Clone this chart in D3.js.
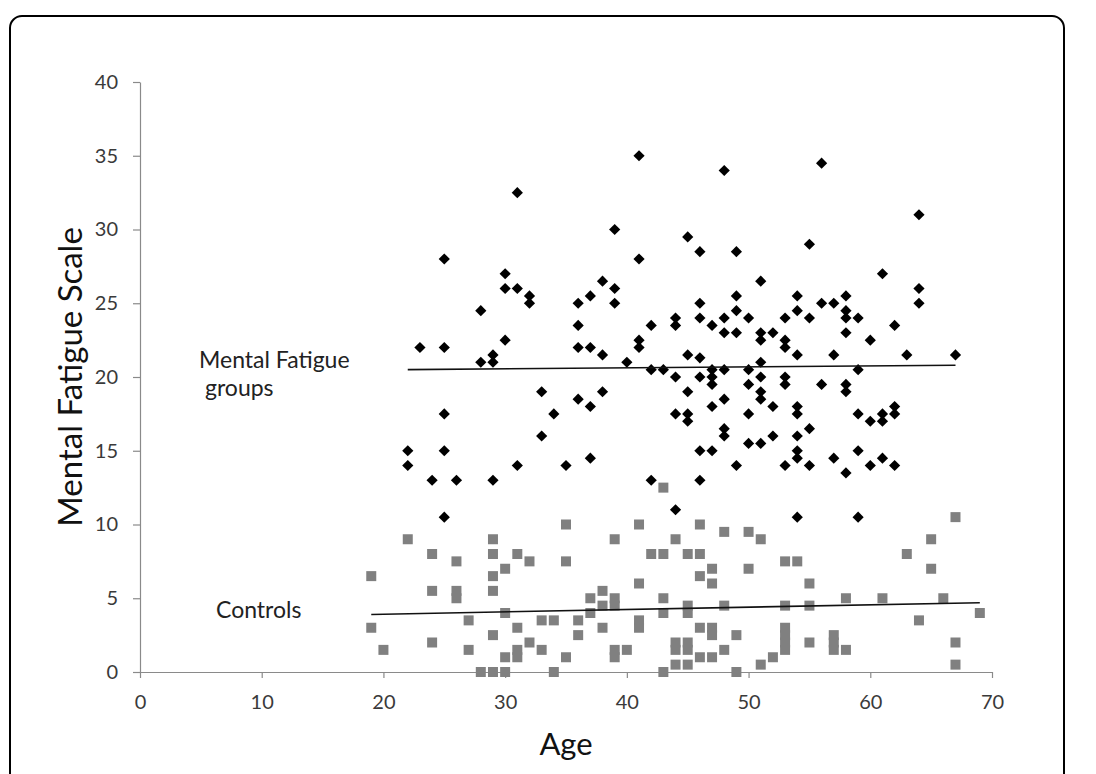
<!DOCTYPE html>
<html>
<head>
<meta charset="utf-8">
<script src="https://cdn.jsdelivr.net/npm/d3@7"></script>
<style>
  html, body { margin: 0; padding: 0; background: #fff; }
  svg { display: block; }
</style>
</head>
<body>
<div id="chart"></div>
<script>
"use strict";

// Mental fatigue group: [age, score]
const fatiguePoints = [
    [22, 15], [22, 14],
    [23, 22],
    [24, 13],
    [25, 28], [25, 22], [25, 17.5], [25, 15], [25, 10.5],
    [26, 13],
    [28, 24.5], [28, 21],
    [29, 21.5], [29, 21], [29, 13],
    [30, 27], [30, 26], [30, 22.5],
    [31, 32.5], [31, 26], [31, 14],
    [32, 25.5], [32, 25],
    [33, 19], [33, 16],
    [34, 17.5],
    [35, 14],
    [36, 25], [36, 23.5], [36, 22], [36, 18.5],
    [37, 25.5], [37, 22], [37, 18], [37, 14.5],
    [38, 26.5], [38, 21.5], [38, 19],
    [39, 30], [39, 26], [39, 25],
    [40, 21],
    [41, 35], [41, 28], [41, 22.5], [41, 22],
    [42, 23.5], [42, 20.5], [42, 13],
    [43, 20.5],
    [44, 24], [44, 23.5], [44, 20], [44, 17.5], [44, 11],
    [45, 29.5], [45, 21.5], [45, 19], [45, 17.5], [45, 17],
    [46, 28.5], [46, 25], [46, 24], [46, 21.3], [46, 20], [46, 15], [46, 13],
    [47, 23.5], [47, 20.5], [47, 20], [47, 19.5], [47, 18], [47, 15],
    [48, 34], [48, 24], [48, 23], [48, 20.5], [48, 18.5], [48, 16.5], [48, 16],
    [49, 28.5], [49, 25.5], [49, 24.5], [49, 23], [49, 14],
    [50, 24], [50, 20.5], [50, 19.5], [50, 17.5], [50, 15.5],
    [51, 26.5], [51, 23], [51, 22.5], [51, 21], [51, 20], [51, 19], [51, 18.5], [51, 15.5],
    [52, 23], [52, 18], [52, 16],
    [53, 24], [53, 22.5], [53, 22], [53, 20], [53, 19.5], [53, 14],
    [54, 25.5], [54, 24.5], [54, 21.5], [54, 18], [54, 17.5], [54, 16], [54, 15], [54, 14.5], [54, 10.5],
    [55, 29], [55, 24], [55, 16.5], [55, 14],
    [56, 34.5], [56, 25], [56, 19.5],
    [57, 25], [57, 21.5], [57, 14.5],
    [58, 25.5], [58, 24.5], [58, 24], [58, 23], [58, 19.5], [58, 19], [58, 13.5],
    [59, 24], [59, 20.5], [59, 17.5], [59, 15], [59, 10.5],
    [60, 22.5], [60, 17], [60, 14],
    [61, 27], [61, 17.5], [61, 17], [61, 14.5],
    [62, 23.5], [62, 18], [62, 17.5], [62, 14],
    [63, 21.5],
    [64, 31], [64, 26], [64, 25],
    [67, 21.5]
];

// Controls: [age, score]
const controlPoints = [
    [19, 6.5], [19, 3],
    [20, 1.5],
    [22, 9],
    [24, 8], [24, 5.5], [24, 2],
    [26, 7.5], [26, 5.5], [26, 5],
    [27, 3.5], [27, 1.5],
    [28, 0],
    [29, 9], [29, 8], [29, 6.5], [29, 5.5], [29, 2.5], [29, 0],
    [30, 7], [30, 4], [30, 1], [30, 0],
    [31, 8], [31, 3], [31, 1.5], [31, 1],
    [32, 7.5], [32, 2],
    [33, 3.5], [33, 1.5],
    [34, 3.5], [34, 0],
    [35, 10], [35, 7.5], [35, 1],
    [36, 3.5], [36, 2.5],
    [37, 5], [37, 4],
    [38, 5.5], [38, 4.5], [38, 3],
    [39, 9], [39, 5], [39, 4.5], [39, 1.5], [39, 1],
    [40, 1.5],
    [41, 10], [41, 6], [41, 3.5], [41, 3],
    [42, 8],
    [43, 12.5], [43, 8], [43, 5], [43, 4], [43, 0],
    [44, 9], [44, 2], [44, 1.5], [44, 0.5],
    [45, 8], [45, 4.5], [45, 4], [45, 2], [45, 1.5], [45, 0.5],
    [46, 10], [46, 8], [46, 6.5], [46, 3], [46, 1],
    [47, 7], [47, 6], [47, 3], [47, 2.5], [47, 1],
    [48, 9.5], [48, 4.5], [48, 1.5],
    [49, 2.5], [49, 0],
    [50, 9.5], [50, 7],
    [51, 9], [51, 0.5],
    [52, 1],
    [53, 7.5], [53, 4.5], [53, 3], [53, 2.5], [53, 2], [53, 1.5],
    [54, 7.5],
    [55, 6], [55, 4.5], [55, 2],
    [57, 2.5], [57, 2], [57, 1.5],
    [58, 5], [58, 1.5],
    [61, 5],
    [63, 8],
    [64, 3.5],
    [65, 9], [65, 7],
    [66, 5],
    [67, 10.5], [67, 2], [67, 0.5],
    [69, 4]
];

// Fitted trend lines, end points
const fatigueTrend = [[22, 20.5], [67, 20.8]];
const controlTrend = [[19, 3.9], [69, 4.7]];

const xTicks = [0, 10, 20, 30, 40, 50, 60, 70];
const yTicks = [0, 5, 10, 15, 20, 25, 30, 35, 40];

const width = 1096,
    height = 774,
    font = "Lato, 'Open Sans', sans-serif";

let svg = d3.select("#chart")
    .append("svg")
    .attr("width", width)
    .attr("height", height);

svg.append("rect")
    .attr("width", width)
    .attr("height", height)
    .attr("fill", "#fff");

// rounded frame, bottom edge runs off the page
svg.append("rect")
    .attr("x", 10)
    .attr("y", 16)
    .attr("width", 1054)
    .attr("height", 800)
    .attr("rx", 12)
    .attr("fill", "none")
    .attr("stroke", "#000")
    .attr("stroke-width", 2);

let x = d3.scaleLinear().domain([0, 70]).range([140, 992]);
let y = d3.scaleLinear().domain([0, 40]).range([672, 82]);

// axes
let xAxis = svg.append("g")
    .attr("transform", "translate(0," + y(0) + ")")
    .call(d3.axisBottom(x).tickValues(xTicks).tickSize(6).tickSizeOuter(0).tickPadding(17));

let yAxis = svg.append("g")
    .attr("transform", "translate(" + x(0) + ",0)")
    .call(d3.axisLeft(y).tickValues(yTicks).tickSize(7).tickSizeOuter(0).tickPadding(15));

[xAxis, yAxis].forEach(a => {
    a.select(".domain").attr("stroke", "#8a8a8a").attr("stroke-width", 1.2);
    a.selectAll(".tick line").attr("stroke", "#8a8a8a").attr("stroke-width", 1.2);
    a.selectAll(".tick text")
        .attr("fill", "#3a3a3a")
        .style("font-family", font)
        .style("font-size", "20px");
});

// controls: grey squares
const sq = 10;
svg.append("g")
    .selectAll("rect")
    .data(controlPoints).enter()
    .append("rect")
    .attr("x", d => x(d[0]) - sq / 2)
    .attr("y", d => y(d[1]) - sq / 2)
    .attr("width", sq)
    .attr("height", sq)
    .attr("fill", "#808080");

// fatigue group: black diamonds
const r = 5.6;
svg.append("g")
    .selectAll("path")
    .data(fatiguePoints).enter()
    .append("path")
    .attr("transform", d => "translate(" + x(d[0]) + "," + y(d[1]) + ")")
    .attr("d", "M0," + -r + "L" + r + ",0L0," + r + "L" + -r + ",0Z")
    .attr("fill", "#000");

// trend lines
let line = d3.line().x(d => x(d[0])).y(d => y(d[1]));
[fatigueTrend, controlTrend].forEach(t => {
    svg.append("path")
        .attr("d", line(t))
        .attr("fill", "none")
        .attr("stroke", "#111")
        .attr("stroke-width", 1.6);
});

// annotations
let labels = svg.append("g")
    .style("font-family", font)
    .style("font-size", "23px")
    .attr("fill", "#222");
labels.append("text").attr("x", 199).attr("y", 368).text("Mental Fatigue");
labels.append("text").attr("x", 205).attr("y", 396).text("groups");
labels.append("text").attr("x", 216).attr("y", 618).text("Controls");

// axis titles
svg.append("text")
    .attr("x", 566)
    .attr("y", 755)
    .attr("text-anchor", "middle")
    .style("font-family", font)
    .style("font-size", "31px")
    .attr("fill", "#111")
    .text("Age");

svg.append("text")
    .attr("transform", "translate(82,377) rotate(-90)")
    .attr("text-anchor", "middle")
    .style("font-family", font)
    .style("font-size", "33px")
    .attr("fill", "#111")
    .text("Mental Fatigue Scale");
</script>
</body>
</html>
